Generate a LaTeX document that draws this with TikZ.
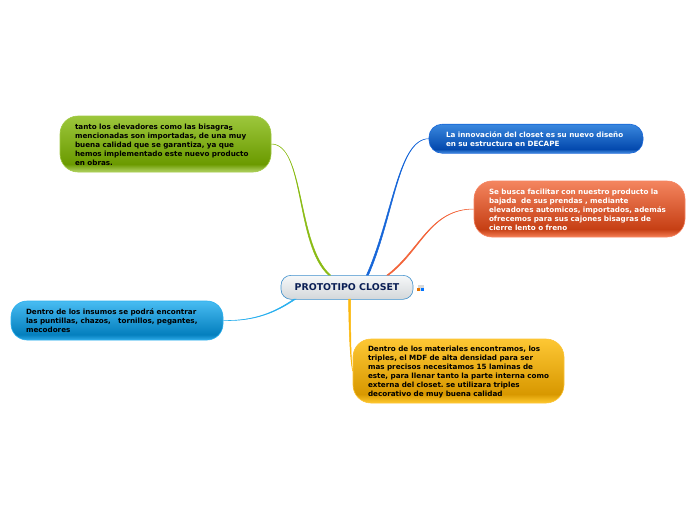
\documentclass[tikz,border=0pt]{standalone}
\usepackage{fontspec}
\usetikzlibrary{positioning}
\setmainfont{DejaVu Sans}
\definecolor{greentop}{HTML}{9CC73C}\definecolor{greendark}{HTML}{6B9A00}\definecolor{greenlow}{HTML}{B4D468}\definecolor{greenline}{HTML}{8ABB14}
\definecolor{bluetop}{HTML}{3A88DE}\definecolor{bluedark}{HTML}{0349AE}\definecolor{bluelow}{HTML}{4D95E4}\definecolor{blueline}{HTML}{1565D8}
\definecolor{redtop}{HTML}{F4855F}\definecolor{reddark}{HTML}{C63F14}\definecolor{redlow}{HTML}{F57F55}\definecolor{redline}{HTML}{F2643A}
\definecolor{goldtop}{HTML}{FDC734}\definecolor{golddark}{HTML}{D89800}\definecolor{goldlow}{HTML}{FFC92E}\definecolor{goldline}{HTML}{FBB80F}
\definecolor{skytop}{HTML}{48BCF2}\definecolor{skydark}{HTML}{047FBE}\definecolor{skylow}{HTML}{2FAAE6}\definecolor{skyline}{HTML}{2BB0EE}
\definecolor{roottop}{HTML}{F6F8F9}\definecolor{rootlow}{HTML}{D3D7DA}\definecolor{rootline}{HTML}{3F90CC}
\definecolor{rootink}{HTML}{0B1F55}
\newcommand{\leafshade}[1]{\pgfdeclareverticalshading{#1fill}{100bp}{%
  color(0bp)=(#1low); color(25bp)=(#1low); color(32bp)=(#1dark); color(75bp)=(#1top); color(100bp)=(#1top)}}
\leafshade{green}\leafshade{blue}\leafshade{red}\leafshade{gold}\leafshade{sky}
\pgfdeclareverticalshading{rootfill}{100bp}{%
  color(0bp)=(rootlow); color(25bp)=(rootlow); color(75bp)=(roottop); color(100bp)=(roottop)}
\tikzset{
  leaf/.style={rectangle, rounded corners=#1, line width=0.6pt, align=left,
    inner sep=0pt, font=\frenchspacing\fontsize{7.2}{9}\selectfont\bfseries},
  link/.style={line width=0.5pt, fill=.}
}
\begin{document}
\begin{tikzpicture}[x=1pt, y=-1pt]
  \useasboundingbox (0,0) rectangle (696,520);
  \node[leaf=18pt, shading=greenfill, draw=greenline!80!white, minimum width=211pt, minimum height=56pt, text width=181pt, text=black] (garantia) at (165.5,144)
    {\rule{0pt}{8pt}tanto los elevadores como las bisagra\raisebox{-1pt}{s}\\mencionadas son importadas, de una muy\\buena calidad que se garantiza, ya que\\hemos implementado este nuevo producto\\en obras.};
  \node[leaf=13pt, shading=bluefill, draw=blueline, minimum width=214pt, minimum height=29pt, text width=180pt, text=white] (innovacion) at (536,138.7)
    {\rule{0pt}{6.5pt}La innovación del closet es su nuevo diseño\\en su estructura en DECAPE};
  \node[leaf=18pt, shading=redfill, draw=redline!80!white, minimum width=211pt, minimum height=56pt, text width=181pt, text=white] (bajada) at (579.5,209)
    {\rule{0pt}{8pt}Se busca facilitar con nuestro producto la\\bajada\ \ de sus prendas , mediante\\elevadores automicos, importados, además\\ofrecemos para sus cajones bisagras de\\cierre lento o freno};
  \node[leaf=18pt, shading=goldfill, draw=goldline!85!white, minimum width=211pt, minimum height=64pt, text width=181pt, text=black] (materiales) at (458.5,371)
    {\rule{0pt}{8pt}Dentro de los materiales encontramos, los\\triples, el MDF de alta densidad para ser\\mas precisos necesitamos 15 laminas de\\este, para llenar tanto la parte interna como\\externa del closet. se utilizara triples\\decorativo de muy buena calidad};
  \node[leaf=16pt, shading=skyfill, draw=skyline, minimum width=212pt, minimum height=39pt, text width=182pt, text=black] (insumos) at (117,320.5)
    {Dentro de los insumos se podrá encontrar\\las puntillas, chazos,\ \ \ tornillos, pegantes,\\mecodores};
  \node[leaf=10pt, shading=rootfill, draw=rootline, minimum width=132pt, minimum height=24pt, align=center, text=rootink, font=\fontsize{9.4}{11}\selectfont\bfseries] (root) at (347,287.3)
    {\raisebox{-1pt}{PROTOTIPO CLOSET}};
  % note marker next to the root
  \node[rectangle, fill=gray!30, minimum width=6pt, minimum height=6pt, inner sep=0pt, right=4pt of root.east, yshift=-0.7pt] (nota) {};
  \node[rectangle, fill=orange!90!black, minimum width=3pt, minimum height=3.5pt, inner sep=0pt, anchor=south east] (notaa) at (nota.south) {};
  \node[rectangle, fill=blue!55!cyan, minimum width=3pt, minimum height=3.5pt, inner sep=0pt, anchor=south west] (notab) at (nota.south) {};
  \coordinate (rootg) at (328.5,275);
  \coordinate (rootb) at (366.5,275);
  \coordinate (rootr) at (387,275);
  \coordinate (rooty) at (348.5,299);
  \coordinate (roots) at (294,299);
  \draw[link, greenline] (garantia.east) .. controls (305,144) and (295,245) .. (rootg) -- ++(2,0) .. controls (296.6,245) and (305,144.5) .. (garantia.east);
  \draw[link, blueline] (innovacion.west) .. controls (398,139) and (393,215) .. (rootb) -- ++(2,0) .. controls (394.6,215) and (398,139.5) .. (innovacion.west);
  \draw[link, redline] (bajada.west) .. controls (430,209) and (420,250) .. (rootr) -- ++(1.8,0) .. controls (421.5,250) and (430,209.5) .. (bajada.west);
  \draw[link, goldline] (rooty) -- ++(2,0) .. controls (350.8,330) and (350.5,360) .. (materiales.west) .. controls (350,360) and (349,330) .. (rooty);
  \draw[link, skyline] (insumos.east) .. controls (255,321) and (275,312) .. (roots) -- ++(1.8,0) .. controls (276,312.5) and (255,321.4) .. (insumos.east);
\end{tikzpicture}
\end{document}
